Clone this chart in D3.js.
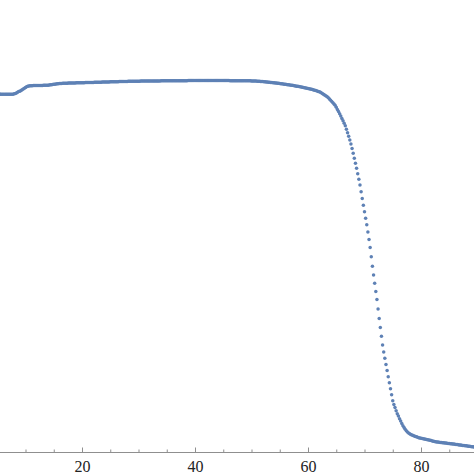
<!DOCTYPE html>
<html>
<head>
<meta charset="utf-8">
<script src="https://cdn.jsdelivr.net/npm/d3@7"></script>
<style>
html,body{margin:0;padding:0;background:#fff;}
svg{display:block;}
</style>
</head>
<body>
<svg id="chart" width="474" height="474"></svg>
<script>
// Data: [x, y] samples (y in % of plateau scale)
const points = [
[5.4,96.2],[5.6,96.2],[5.8,96.2],[6.0,96.2],[6.2,96.2],[6.4,96.2],[6.6,96.2],[6.8,96.2],[7.0,96.2],[7.2,96.2],
[7.4,96.2],[7.6,96.2],[7.8,96.2],[8.0,96.3],[8.2,96.4],[8.4,96.5],[8.6,96.7],[8.8,96.9],[9.0,97.0],[9.2,97.2],
[9.4,97.4],[9.6,97.6],[9.8,97.8],[10.0,98.0],[10.2,98.2],[10.4,98.35],[10.6,98.4],[10.8,98.45],[11.0,98.47],[11.2,98.48],
[11.4,98.49],[11.6,98.5],[11.8,98.5],[12.0,98.5],[12.2,98.5],[12.4,98.52],[12.6,98.53],[12.8,98.54],[13.0,98.55],[13.2,98.56],
[13.4,98.57],[13.6,98.58],[13.8,98.6],[14.0,98.62],[14.2,98.65],[14.4,98.7],[14.6,98.74],[14.8,98.78],[15.0,98.83],[15.2,98.88],
[15.4,98.93],[15.6,98.97],[15.8,99.0],[16.0,99.04],[16.2,99.07],[16.4,99.09],[16.6,99.11],[16.8,99.12],[17.0,99.13],[17.2,99.14],
[17.4,99.15],[17.6,99.16],[17.8,99.17],[18.0,99.18],[18.2,99.19],[18.4,99.2],[18.6,99.21],[18.8,99.22],[19.0,99.23],[19.2,99.24],
[19.4,99.24],[19.6,99.25],[19.8,99.26],[20.0,99.27],[20.2,99.28],[20.4,99.29],[20.6,99.3],[20.8,99.31],[21.0,99.32],[21.2,99.33],
[21.4,99.34],[21.6,99.35],[21.8,99.36],[22.0,99.36],[22.2,99.37],[22.4,99.38],[22.6,99.39],[22.8,99.4],[23.0,99.4],[23.2,99.41],
[23.4,99.42],[23.6,99.43],[23.8,99.44],[24.0,99.45],[24.2,99.46],[24.4,99.47],[24.6,99.48],[24.8,99.49],[25.0,99.5],[25.2,99.51],
[25.4,99.52],[25.6,99.53],[25.8,99.53],[26.0,99.54],[26.2,99.55],[26.4,99.56],[26.6,99.57],[26.8,99.58],[27.0,99.59],[27.2,99.6],
[27.4,99.6],[27.6,99.61],[27.8,99.62],[28.0,99.63],[28.2,99.64],[28.4,99.65],[28.6,99.65],[28.8,99.66],[29.0,99.66],[29.2,99.67],
[29.4,99.67],[29.6,99.68],[29.8,99.68],[30.0,99.69],[30.2,99.69],[30.4,99.7],[30.6,99.7],[30.8,99.71],[31.0,99.71],[31.2,99.72],
[31.4,99.72],[31.6,99.72],[31.8,99.73],[32.0,99.73],[32.2,99.74],[32.4,99.74],[32.6,99.74],[32.8,99.75],[33.0,99.75],[33.2,99.75],
[33.4,99.76],[33.6,99.76],[33.8,99.76],[34.0,99.77],[34.2,99.77],[34.4,99.77],[34.6,99.77],[34.8,99.78],[35.0,99.78],[35.2,99.78],
[35.4,99.78],[35.6,99.78],[35.8,99.79],[36.0,99.79],[36.2,99.79],[36.4,99.8],[36.6,99.8],[36.8,99.8],[37.0,99.81],[37.2,99.81],
[37.4,99.81],[37.6,99.82],[37.8,99.82],[38.0,99.82],[38.2,99.83],[38.4,99.83],[38.6,99.83],[38.8,99.84],[39.0,99.84],[39.2,99.84],
[39.4,99.84],[39.6,99.85],[39.8,99.85],[40.0,99.85],[40.2,99.85],[40.4,99.86],[40.6,99.86],[40.8,99.86],[41.0,99.86],[41.2,99.86],
[41.4,99.87],[41.6,99.87],[41.8,99.87],[42.0,99.87],[42.2,99.87],[42.4,99.87],[42.6,99.87],[42.8,99.87],[43.0,99.87],[43.2,99.87],
[43.4,99.87],[43.6,99.87],[43.8,99.86],[44.0,99.86],[44.2,99.86],[44.4,99.86],[44.6,99.86],[44.8,99.85],[45.0,99.85],[45.2,99.85],
[45.4,99.85],[45.6,99.84],[45.8,99.84],[46.0,99.84],[46.2,99.83],[46.4,99.83],[46.6,99.83],[46.8,99.82],[47.0,99.82],[47.2,99.82],
[47.4,99.81],[47.6,99.81],[47.8,99.81],[48.0,99.8],[48.2,99.8],[48.4,99.8],[48.6,99.79],[48.8,99.79],[49.0,99.79],[49.2,99.78],
[49.4,99.78],[49.6,99.78],[49.8,99.77],[50.0,99.76],[50.2,99.75],[50.4,99.74],[50.6,99.73],[50.8,99.71],[51.0,99.69],[51.2,99.67],
[51.4,99.65],[51.6,99.62],[51.8,99.6],[52.0,99.57],[52.2,99.54],[52.4,99.51],[52.6,99.48],[52.8,99.45],[53.0,99.42],[53.2,99.39],
[53.4,99.36],[53.6,99.32],[53.8,99.29],[54.0,99.25],[54.2,99.22],[54.4,99.18],[54.6,99.14],[54.8,99.1],[55.0,99.06],[55.2,99.02],
[55.4,98.98],[55.6,98.93],[55.8,98.89],[56.0,98.84],[56.2,98.8],[56.4,98.75],[56.6,98.71],[56.8,98.66],[57.0,98.61],[57.2,98.56],
[57.4,98.5],[57.6,98.45],[57.8,98.4],[58.0,98.34],[58.2,98.29],[58.4,98.23],[58.6,98.17],[58.8,98.11],[59.0,98.05],[59.2,97.98],
[59.4,97.92],[59.6,97.85],[59.8,97.79],[60.0,97.72],[60.2,97.66],[60.4,97.6],[60.6,97.52],[60.8,97.43],[61.0,97.34],[61.2,97.25],
[61.4,97.15],[61.6,97.05],[61.8,96.93],[62.0,96.82],[62.2,96.7],[62.4,96.49],[62.6,96.29],[62.8,96.09],[63.0,95.89],[63.2,95.69],
[63.4,95.49],[63.6,95.25],[63.8,94.92],[64.0,94.58],[64.2,94.25],[64.4,93.91],[64.6,93.58],[64.8,93.22],[65.0,92.65],[65.2,92.09],
[65.4,91.52],[65.6,90.95],[65.8,90.33],[66.0,89.68],[66.2,89.03],[66.4,88.39],[66.6,87.67],[66.8,86.76],[67.0,85.85],[67.2,84.88],
[67.4,83.87],[67.6,82.81],[67.8,81.57],[68.0,80.33],[68.2,78.98],[68.4,77.63],[68.6,76.28],[68.8,74.82],[69.0,73.29],[69.2,71.77],
[69.4,69.95],[69.6,68.13],[69.8,66.33],[70.0,64.59],[70.2,62.84],[70.4,61.1],[70.6,59.13],[70.8,57.1],[71.0,55.0],[71.2,52.46],
[71.4,49.93],[71.6,47.56],[71.8,45.37],[72.0,43.17],[72.2,40.97],[72.4,38.45],[72.6,35.92],[72.8,33.44],[73.0,31.11],[73.2,28.78],
[73.4,26.88],[73.6,25.21],[73.8,23.54],[74.0,21.88],[74.2,20.26],[74.4,18.63],[74.6,17.01],[74.8,15.39],[75.0,13.76],[75.2,12.77],
[75.4,11.94],[75.6,11.11],[75.8,10.31],[76.0,9.65],[76.2,8.97],[76.4,8.3],[76.6,7.65],[76.8,7.08],[77.0,6.58],[77.2,6.12],
[77.4,5.74],[77.6,5.4],[77.8,5.12],[78.0,4.89],[78.2,4.7],[78.4,4.54],[78.6,4.41],[78.8,4.29],[79.0,4.18],[79.2,4.07],
[79.4,3.96],[79.6,3.86],[79.8,3.76],[80.0,3.69],[80.2,3.62],[80.4,3.55],[80.6,3.48],[80.8,3.41],[81.0,3.34],[81.2,3.27],
[81.4,3.2],[81.6,3.13],[81.8,3.06],[82.0,2.99],[82.2,2.92],[82.4,2.84],[82.6,2.77],[82.8,2.7],[83.0,2.66],[83.2,2.62],
[83.4,2.58],[83.6,2.54],[83.8,2.5],[84.0,2.47],[84.2,2.43],[84.4,2.39],[84.6,2.35],[84.8,2.31],[85.0,2.28],[85.2,2.24],
[85.4,2.2],[85.6,2.16],[85.8,2.12],[86.0,2.08],[86.2,2.04],[86.4,1.99],[86.6,1.95],[86.8,1.91],[87.0,1.87],[87.2,1.82],
[87.4,1.78],[87.6,1.74],[87.8,1.7],[88.0,1.65],[88.2,1.61],[88.4,1.57],[88.6,1.53],[88.8,1.48],[89.0,1.44],[89.2,1.4],
[89.4,1.36]
];
const majorTicks = [20, 40, 60, 80];
const minorTicks = [10, 15, 25, 30, 35, 45, 50, 55, 65, 70, 75, 85];

const W = 474, H = 474;
const svg = d3.select("#chart");
const x = d3.scaleLinear().domain([20, 80]).range([82, 421]);
const y = d3.scaleLinear().domain([0, 100]).range([452, 80]);
const axisY = y(0);

const axisColor = "#8f8f8f";

// axis line across full width
svg.append("line")
  .attr("x1", 0).attr("x2", W)
  .attr("y1", axisY + 0.5).attr("y2", axisY + 0.5)
  .attr("stroke", axisColor).attr("stroke-width", 1);

const gMinor = svg.append("g").attr("transform", `translate(0,${axisY + 0.5})`)
  .call(d3.axisBottom(x).tickValues(minorTicks).tickSizeInner(-3).tickSizeOuter(0).tickFormat(""));
gMinor.select(".domain").remove();
gMinor.selectAll(".tick line").attr("stroke", axisColor);

const gMajor = svg.append("g").attr("transform", `translate(0,${axisY + 0.5})`)
  .call(d3.axisBottom(x).tickValues(majorTicks).tickSizeInner(-5).tickSizeOuter(0).tickPadding(8).tickFormat(d3.format("d")));
gMajor.attr("font-family", "Liberation Serif, Times New Roman, serif").attr("font-size", 16);
gMajor.select(".domain").remove();
gMajor.selectAll(".tick line").attr("stroke", axisColor);
gMajor.selectAll(".tick text")
  .attr("font-family", "Liberation Serif")
  .attr("font-size", 16)
  .attr("fill", "#222");

// points
svg.append("g").selectAll("circle")
  .data(points)
  .join("circle")
  .attr("cx", d => x(d[0]))
  .attr("cy", d => y(d[1]))
  .attr("r", 1.75)
  .attr("fill", "#5e81b5");
</script>
</body>
</html>
